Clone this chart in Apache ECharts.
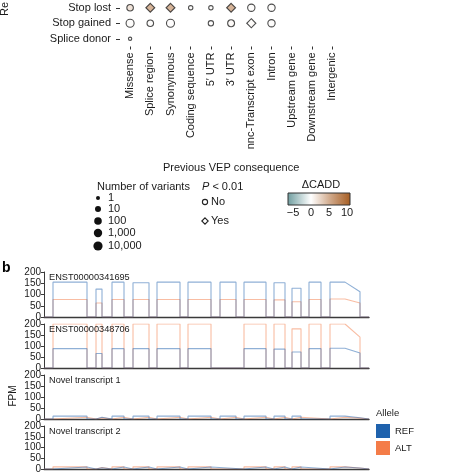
<!DOCTYPE html>
<html><head><meta charset="utf-8">
<script src="https://cdn.jsdelivr.net/npm/echarts@6/dist/echarts.min.js"></script>
<style>html,body{margin:0;padding:0;background:#fff}#c{width:474px;height:474px}</style>
</head><body><div id="c"></div>
<script>
// ---------- panel a: bubble plot data ----------
const consequences = ['Missense','Splice region','Synonymous','Coding sequence','5\u2032 UTR','3\u2032 UTR','nnc-Transcript exon','Intron','Upstream gene','Downstream gene','Intergenic'];
const rowNames = ['Splice donor','Stop gained','Stop lost']; // bottom to top
const stopLostCount   = [40, 100, 100, 3, 3, 100, 120, 120, null, null, null];
const stopLostCadd    = [2, 5.5, 5.5, 0.2, 0.2, 5.5, 0.2, 0.2, null, null, null];
const stopLostSig     = [0, 1, 1, 0, 0, 1, 0, 0, 0, 0, 0];
const stopGainedCount = [800, 40, 800, null, 8, 65, 150, 120, null, null, null];
const stopGainedCadd  = [0.2, 0.2, 0.1, null, 0.1, 0.4, 0.3, 0.2, null, null, null];
const stopGainedSig   = [0, 0, 0, 0, 0, 0, 1, 0, 0, 0, 0];
const spliceDonorCount = [1, null, null, null, null, null, null, null, null, null, null];
const spliceDonorCadd  = [0, null, null, null, null, null, null, null, null, null, null];
const spliceDonorSig   = [0, 0, 0, 0, 0, 0, 0, 0, 0, 0, 0];
const sizeLegendCounts = [1, 10, 100, 1000, 10000];
const sizeLegendLabels = ['1', '10', '100', '1,000', '10,000'];
const caddTicks = [-5, 0, 5, 10];

// ---------- panel b: coverage data ----------
const positionMax = 325;
const exonStart = [9, 52, 68, 89, 113, 144, 176, 200, 230, 248, 265, 286];
const exonEnd   = [43, 58, 80, 105, 136, 167, 192, 222, 241, 257, 277, 316];
const decayFrom = 301;
const panelTitles = ['ENST00000341695', 'ENST00000348706', 'Novel transcript 1', 'Novel transcript 2'];
const t1Ref    = [155, 124, 155, 152, 155, 155, 155, 155, 152, 128, 155, 155];
const t1RefEnd = [155, 124, 155, 152, 155, 155, 155, 155, 152, 128, 155, 112];
const t1Alt    = [78, 62, 78, 78, 78, 78, 78, 78, 76, 68, 78, 80];
const t1AltEnd = [78, 62, 78, 78, 78, 78, 78, 78, 76, 68, 78, 62];
const t2Ref    = [88, 66, 88, 88, 88, 88, null, 88, 86, 73, 88, 90];
const t2RefEnd = [88, 66, 88, 88, 88, 88, null, 88, 86, 73, 88, 68];
const t2Alt    = [200, 200, 200, 200, 200, 200, null, 200, 200, 178, 200, 200];
const t2AltEnd = [200, 200, 200, 200, 200, 200, null, 200, 200, 178, 200, 140];
const n1Ref    = [13, 8, 13, 13, 13, 13, 13, 13, 13, 13, null, 13];
const n1RefEnd = [13, 8, 13, 13, 13, 13, 13, 13, 13, 13, null, 6];
const n1Alt    = [8, 5, 8, 8, 8, 8, 8, 8, 8, 8, null, 8];
const n1AltEnd = [8, 5, 8, 8, 8, 8, 8, 8, 8, 8, null, 4];
const n2Ref    = [9, 6, 9, 9, 9, 9, null, 9, 9, 9, null, 9];
const n2RefEnd = [9, 6, 9, 9, 9, 9, null, 9, 9, 9, null, 5];
const n2Alt    = [10, 7, 10, 10, 10, 10, null, 10, 10, 10, null, 10];
const n2AltEnd = [10, 7, 10, 10, 10, 10, null, 10, 10, 10, null, 5];
const alleleNames = ['REF', 'ALT'];
const fpmTicks = [0, 50, 100, 150, 200];

// ---------- styles ----------
const FONT = '"Liberation Sans", Arial, Helvetica, sans-serif';
const TXT = '#1a1a1a';
const REF_COLOR = '#1f62ad';
const ALT_COLOR = '#f47c48';
const caddColors = ['#6f9d9f', '#ffffff', '#cfa788', '#a65d22'];
const legendDiam = [3, 5, 6.6, 7.4, 8.2];
function diam(n) {
  const l = Math.max(0, Math.min(4, Math.log10(n)));
  const i = Math.min(3, Math.floor(l));
  return legendDiam[i] + (legendDiam[i + 1] - legendDiam[i]) * (l - i);
}

const circles = [], diamonds = [];
[[stopLostCount, stopLostCadd, stopLostSig, 'Stop lost'],
 [stopGainedCount, stopGainedCadd, stopGainedSig, 'Stop gained'],
 [spliceDonorCount, spliceDonorCadd, spliceDonorSig, 'Splice donor']].forEach(([cnt, cadd, sig, row]) => {
  cnt.forEach((n, j) => {
    if (n == null) return;
    const item = [consequences[j], row, n, cadd[j]];
    (sig[j] ? diamonds : circles).push(item);
  });
});

function coverage(levels, ends) {
  const pts = [[0, 0]];
  exonStart.forEach((s, i) => {
    const v = levels[i];
    if (v == null) return;
    const e = exonEnd[i], ve = ends[i];
    pts.push([s, 0], [s, v]);
    if (ve !== v) pts.push([decayFrom, v], [e, ve]);
    else pts.push([e, v]);
    pts.push([e, 0]);
  });
  pts.push([positionMax, 0]);
  return pts;
}

const panelTops = [272, 324, 375, 426];
const panelHeights = [45, 44, 44, 44];
const panelData = [[t1Ref, t1RefEnd, t1Alt, t1AltEnd], [t2Ref, t2RefEnd, t2Alt, t2AltEnd],
                   [n1Ref, n1RefEnd, n1Alt, n1AltEnd], [n2Ref, n2RefEnd, n2Alt, n2AltEnd]];

const grid = [{left: 120, top: -2.1, width: 222.2, height: 48.6}];
const xAxis = [{
  type: 'category', gridIndex: 0, data: consequences,
  axisLine: {show: false},
  axisTick: {show: true, alignWithLabel: true, length: 3, lineStyle: {color: '#333'}},
  axisLabel: {rotate: 90, fontSize: 11, fontFamily: FONT, color: TXT, margin: 6, interval: 0},
  name: 'Previous VEP consequence', nameLocation: 'middle', nameGap: 116,
  nameTextStyle: {fontSize: 11, fontFamily: FONT, color: TXT}
}];
const yAxis = [{
  type: 'category', gridIndex: 0, data: rowNames,
  axisLine: {show: false},
  axisTick: {show: true, alignWithLabel: true, length: 4, lineStyle: {color: '#333'}},
  axisLabel: {fontSize: 11, fontFamily: FONT, color: TXT, margin: 9, interval: 0}
}];
const series = [
  {type: 'scatter', xAxisIndex: 0, yAxisIndex: 0, symbol: 'circle', data: circles,
   symbolSize: d => diam(d[2]) * 1.1, itemStyle: {borderColor: '#222', borderWidth: 1.1}},
  {type: 'scatter', xAxisIndex: 0, yAxisIndex: 0, symbol: 'diamond', data: diamonds,
   symbolSize: d => diam(d[2]) * 1.35, itemStyle: {borderColor: '#222', borderWidth: 1.1}}
];
const graphics = [];

panelTops.forEach((top, k) => {
  const gi = k + 1;
  grid.push({left: 44, top: top, width: 325, height: panelHeights[k]});
  xAxis.push({type: 'value', gridIndex: gi, min: 0, max: positionMax,
    axisLine: {show: true, lineStyle: {color: '#3a3a3a', width: 1.4}},
    axisTick: {show: false}, axisLabel: {show: false}, splitLine: {show: false}});
  yAxis.push({type: 'value', gridIndex: gi, min: 0, max: 200, interval: 50,
    axisLine: {show: true, lineStyle: {color: '#3a3a3a', width: 1}},
    axisTick: {show: true, length: 3, lineStyle: {color: '#3a3a3a'}, customValues: fpmTicks},
    axisLabel: {fontSize: 10, fontFamily: FONT, color: TXT, margin: 3, customValues: fpmTicks,
      showMinLabel: true, showMaxLabel: true, hideOverlap: false},
    splitLine: {show: false}});
  const [r, re, a, ae] = panelData[k];
  series.push({name: 'ALT', type: 'line', xAxisIndex: gi, yAxisIndex: gi, data: coverage(a, ae),
    showSymbol: false, silent: true, itemStyle: {color: ALT_COLOR},
    lineStyle: {color: ALT_COLOR, width: 1.1, opacity: 0.5}, z: 2});
  series.push({name: 'REF', type: 'line', xAxisIndex: gi, yAxisIndex: gi, data: coverage(r, re),
    showSymbol: false, silent: true, itemStyle: {color: REF_COLOR},
    lineStyle: {color: REF_COLOR, width: 1.1, opacity: 0.5}, z: 3});
  graphics.push({type: 'text', x: 49, y: top + 5.5, z: 10,
    style: {text: panelTitles[k], font: '9.2px ' + FONT, fill: TXT, textAlign: 'left', textVerticalAlign: 'middle'}});
});

// legend graphics for panel a
graphics.push({type: 'text', x: 5, y: 9, rotation: Math.PI / 2,
  style: {text: 'Re', font: '11px ' + FONT, fill: TXT, textAlign: 'center', textVerticalAlign: 'middle'}});
graphics.push({type: 'text', x: 97, y: 187,
  style: {text: 'Number of variants', font: '11px ' + FONT, fill: TXT, textAlign: 'left', textVerticalAlign: 'middle'}});
const sizeLegendY = [198, 209, 221, 233, 246];
sizeLegendCounts.forEach((n, i) => {
  graphics.push({type: 'circle', shape: {cx: 98, cy: sizeLegendY[i], r: diam(n) / 2 + 0.5}, style: {fill: '#111'}});
  graphics.push({type: 'text', x: 108, y: sizeLegendY[i],
    style: {text: sizeLegendLabels[i], font: '11px ' + FONT, fill: TXT, textAlign: 'left', textVerticalAlign: 'middle'}});
});
graphics.push({type: 'text', x: 202, y: 187,
  style: {text: '{i|P} < 0.01', font: '11px ' + FONT, fill: TXT, textAlign: 'left', textVerticalAlign: 'middle',
    rich: {i: {fontStyle: 'italic', fontSize: 11, fontFamily: FONT}}}});
graphics.push({type: 'circle', shape: {cx: 205, cy: 202, r: 2.6}, style: {fill: '#fff', stroke: '#222', lineWidth: 1.1}});
graphics.push({type: 'text', x: 211, y: 202,
  style: {text: 'No', font: '11px ' + FONT, fill: TXT, textAlign: 'left', textVerticalAlign: 'middle'}});
graphics.push({type: 'polygon', shape: {points: [[205, 217.8], [208.2, 221], [205, 224.2], [201.8, 221]]},
  style: {fill: '#fff', stroke: '#222', lineWidth: 1.1}});
graphics.push({type: 'text', x: 211, y: 221,
  style: {text: 'Yes', font: '11px ' + FONT, fill: TXT, textAlign: 'left', textVerticalAlign: 'middle'}});
graphics.push({type: 'text', x: 321, y: 185,
  style: {text: '\u0394CADD', font: '11px ' + FONT, fill: TXT, textAlign: 'center', textVerticalAlign: 'middle'}});
const barX0 = 288, barX1 = 350, barVmin = -6.4, barVmax = 10.8;
const zeroOff = (0 - barVmin) / (barVmax - barVmin);
graphics.push({type: 'rect', shape: {x: barX0, y: 193, width: barX1 - barX0, height: 12},
  style: {fill: new echarts.graphic.LinearGradient(0, 0, 1, 0, [
    {offset: 0, color: caddColors[0]}, {offset: zeroOff, color: caddColors[1]},
    {offset: zeroOff + (1 - zeroOff) * 0.5, color: caddColors[2]}, {offset: 1, color: caddColors[3]}]),
    stroke: '#333', lineWidth: 1}});
caddTicks.forEach(t => {
  const x = barX0 + (t - barVmin) / (barVmax - barVmin) * (barX1 - barX0);
  graphics.push({type: 'text', x: x, y: 213,
    style: {text: t < 0 ? '\u2212' + Math.abs(t) : String(t), font: '11px ' + FONT, fill: TXT, textAlign: 'center', textVerticalAlign: 'middle'}});
});
// panel b extras
graphics.push({type: 'text', x: 2, y: 268,
  style: {text: 'b', font: 'bold 14px ' + FONT, fill: '#000', textAlign: 'left', textVerticalAlign: 'middle'}});
graphics.push({type: 'text', x: 13, y: 396, rotation: Math.PI / 2,
  style: {text: 'FPM', font: '10px ' + FONT, fill: TXT, textAlign: 'center', textVerticalAlign: 'middle'}});
graphics.push({type: 'text', x: 376, y: 413,
  style: {text: 'Allele', font: '9.5px ' + FONT, fill: TXT, textAlign: 'left', textVerticalAlign: 'middle'}});

const chart = echarts.init(document.getElementById('c'), null, {renderer: 'canvas'});
chart.setOption({
  animation: false,
  backgroundColor: '#fff',
  grid: grid, xAxis: xAxis, yAxis: yAxis, series: series,
  visualMap: {type: 'continuous', show: false, seriesIndex: [0, 1], dimension: 3, min: -5, max: 10,
    inRange: {color: caddColors}},
  legend: {data: [{name: alleleNames[0], itemStyle: {color: REF_COLOR, opacity: 1}},
                  {name: alleleNames[1], itemStyle: {color: ALT_COLOR, opacity: 1}}],
    orient: 'vertical', left: 376, top: 424, itemWidth: 14, itemHeight: 14, itemGap: 3, icon: 'rect',
    selectedMode: false, textStyle: {fontSize: 9.5, fontFamily: FONT, color: TXT, padding: [0, 0, 0, 0]},
    padding: 0},
  graphic: {elements: graphics}
});
</script>
</body></html>
